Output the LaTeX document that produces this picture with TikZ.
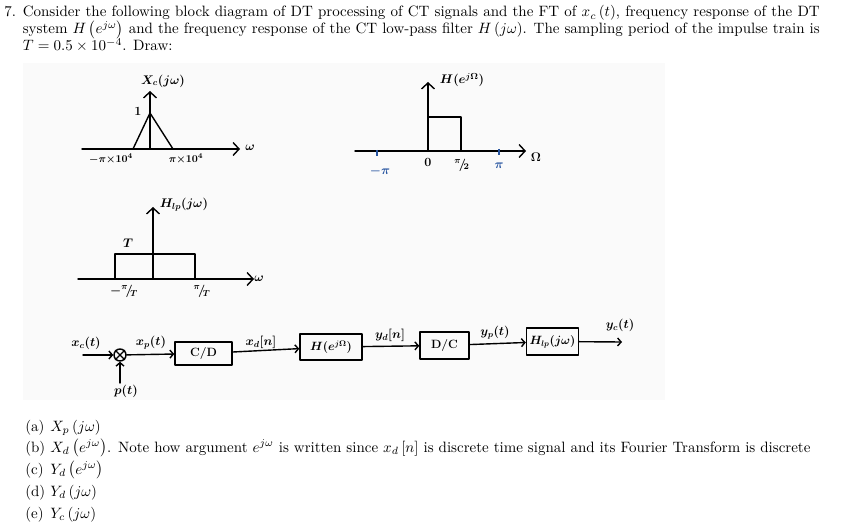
\RequirePackage{fix-cm}
\documentclass[tikz,border=0pt]{standalone}
\usepackage{amsmath,amssymb}
\usepackage{tikz}
\usetikzlibrary{arrows.meta, positioning, calc}
\definecolor{penblue}{RGB}{38,84,160}
\newcommand{\txs}{1.5}

\begin{document}
\begin{tikzpicture}[x=1pt,y=-1pt,
	txt/.style={anchor=base west,inner sep=0pt,font=\fontsize{10}{12}\selectfont,scale=\txs,transform shape},
	hand/.style={line width=1.4pt,line cap=round,line join=round},
	axis/.style={hand,-{Straight Barb[length=6pt,width=13pt]}},
	sig/.style={hand,-{Straight Barb[length=3.5pt,width=8pt]}},
	lbl/.style={inner sep=0pt,font=\fontsize{12.5}{14}\selectfont\boldmath},
	tick/.style={inner sep=0pt,font=\fontsize{10.5}{12}\selectfont\boldmath},
	blk/.style={draw,hand,inner sep=1pt,font=\fontsize{12}{14}\selectfont\bfseries\boldmath}]
	\useasboundingbox (0,0) rectangle (844,532);
	\fill[black!2] (23,63) rectangle (665,400);
	\pgfmathsetlengthmacro{\qwidth}{797pt/\txs}
	\pgfmathsetlengthmacro{\lblw}{25pt/\txs}
	% question
	\node[txt] (num) at (4,17) {7.};
	\node[txt] (q1) at (22.5,17) {\makebox[\qwidth][s]{Consider the following block diagram of DT processing of CT signals and the FT of $x_c\left(t\right)$, frequency response of the DT}};
	\node[txt] (q2) at (22.5,34) {\makebox[\qwidth][s]{system $H\left(e^{j\omega}\right)$ and the frequency response of the CT low-pass filter $H\left(j\omega\right)$. The sampling period of the impulse train is}};
	\node[txt] (q3) at (22.5,51) {$T=0.5\times10^{-4}$. Draw:};
	% X_c(jw)
	\draw[axis] (82,149) -- (240,149);
	\draw[axis] (150,149) -- (150,91);
	\draw[hand] (133,149) -- (150,113) -- (173,149);
	\node[lbl] (Xc) at (163,81) {$X_c(j\omega)$};
	\node[lbl] (one) at (138,111) {$1$};
	\node[tick] (Xcl) at (111,159) {$-\pi{\times}10^4$};
	\node[tick] (Xcr) at (186,159) {$\pi{\times}10^4$};
	\node[lbl] (Xcw) at (250,148) {$\omega$};
	% H(e^jW)
	\draw[axis] (355,151) -- (526,151);
	\draw[axis] (428,151) -- (428,82);
	\draw[hand] (428,117) -- (461,117) -- (461,151);
	\draw[penblue,line width=1.2pt] (377,150) -- (377,156);
	\draw[penblue,line width=1.2pt] (499,149) -- (499,155);
	\node[lbl] (He) at (462,80) {$H(e^{j\Omega})$};
	\node[lbl] (Hzero) at (428,162) {$0$};
	\node[lbl] (Hpi2) at (462,165) {${}^{\pi}\!/\!{}_{2}$};
	\node[lbl] (HW) at (536,157) {$\Omega$};
	\node[lbl,penblue] (Hmpi) at (380,171) {$-\pi$};
	\node[lbl,penblue] (Hpi) at (499,166) {$\pi$};
	% H_lp(jw)
	\draw[axis] (78,279) -- (254,279);
	\draw[axis] (153,279) -- (153,207);
	\draw[hand] (115,279) -- (115,254) -- (195,254) -- (195,279);
	\node[lbl] (Hlp) at (184,205) {$H_{lp}(j\omega)$};
	\node[lbl] (T) at (128,243) {$T$};
	\node[lbl] (Hlpl) at (124,291) {$-{}^{\pi}\!/\!{}_{T}$};
	\node[lbl] (Hlpr) at (202,291) {${}^{\pi}\!/\!{}_{T}$};
	\node[lbl] (Hlpw) at (259,279) {$\omega$};
	% block diagram
	\coordinate (xin) at (83,355);
	\node[draw,hand,circle,minimum size=12pt,inner sep=0pt] (mul) at (120,355) {};
	\draw[hand] (mul.45) -- (mul.225) (mul.135) -- (mul.315);
	\coordinate (pin) at (120,383);
	\node[blk,minimum width=57pt,minimum height=23pt] (cd) at (203.5,353.5) {C/D};
	\node[blk,minimum width=62pt,minimum height=26pt] (H) at (331,347) {$H(e^{j\Omega})$};
	\node[blk,minimum width=49pt,minimum height=27pt] (dc) at (444.5,345.5) {D/C};
	\node[blk,minimum width=52pt,minimum height=27pt] (lp) at (552.5,341.5) {$H_{lp}(j\omega)$};
	\coordinate (yout) at (622,342);
	\draw[sig] (xin) -- (mul);
	\draw[sig] (pin) -- (mul);
	\draw[sig] (mul) -- (cd);
	\draw[sig] (cd) -- (H);
	\draw[sig] (H) -- (dc);
	\draw[sig] (dc) -- (lp);
	\draw[sig] (lp) -- (yout);
	\node[lbl] (xc) at (86,343) {$x_c(t)$};
	\node[lbl] (p) at (126,391) {$p(t)$};
	\node[lbl] (xp) at (151,343) {$x_p(t)$};
	\node[lbl] (xd) at (261,342) {$x_d[n]$};
	\node[lbl] (yd) at (390,335) {$y_d[n]$};
	\node[lbl] (yp) at (495,333) {$y_p(t)$};
	\node[lbl] (yc) at (620,325) {$y_c(t)$};
	% items
	\node[txt] (ia) at (25,431) {\makebox[\lblw][l]{(a)}$X_p\left(j\omega\right)$};
	\node[txt] (ib) at (25,452) {\makebox[\lblw][l]{(b)}$X_d\left(e^{j\omega}\right)$. Note how argument $e^{j\omega}$ is written since $x_d\left[n\right]$ is discrete time signal and its Fourier Transform is discrete};
	\node[txt] (ic) at (25,474) {\makebox[\lblw][l]{(c)}$Y_d\left(e^{j\omega}\right)$};
	\node[txt] (id) at (25,496) {\makebox[\lblw][l]{(d)}$Y_d\left(j\omega\right)$};
	\node[txt] (ie) at (25,518) {\makebox[\lblw][l]{(e)}$Y_c\left(j\omega\right)$};
\end{tikzpicture}
\end{document}
